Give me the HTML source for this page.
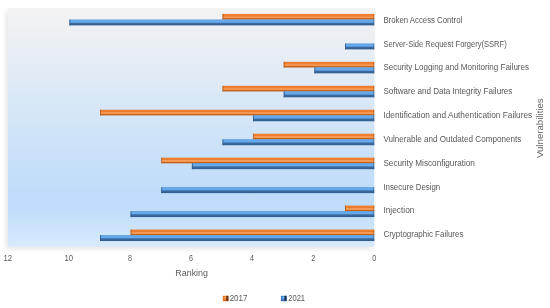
<!DOCTYPE html>
<html><head><meta charset="utf-8"><title>Chart</title>
<style>
html,body{margin:0;padding:0;background:#fff;}
body{width:550px;height:308px;overflow:hidden;}
svg{display:block;}
text{font-family:"Liberation Sans",sans-serif;fill:#595959;}
</style></head><body>
<svg width="550" height="308" viewBox="0 0 550 308">
<defs>
<linearGradient id="bg" x1="0" y1="0" x2="0" y2="1">
<stop offset="0" stop-color="#f3f3f3"/>
<stop offset="0.04" stop-color="#f1f2f3"/>
<stop offset="0.76" stop-color="#bfddfa"/>
<stop offset="0.84" stop-color="#bfddfa"/>
<stop offset="1" stop-color="#d8ebfd"/>
</linearGradient>
<linearGradient id="og" x1="0" y1="0" x2="0" y2="1">
<stop offset="0" stop-color="#ee7e2e"/>
<stop offset="0.3" stop-color="#f0802f"/>
<stop offset="0.4" stop-color="#e57829"/>
<stop offset="0.5" stop-color="#f79b58"/>
<stop offset="0.72" stop-color="#f5954e"/>
<stop offset="0.82" stop-color="#c8651f"/>
<stop offset="1" stop-color="#bb5c1a"/>
</linearGradient>
<linearGradient id="bl" x1="0" y1="0" x2="0" y2="1">
<stop offset="0" stop-color="#4a8fd8"/>
<stop offset="0.16" stop-color="#60a6eb"/>
<stop offset="0.48" stop-color="#68adef"/>
<stop offset="0.58" stop-color="#3e6ea5"/>
<stop offset="1" stop-color="#305a8b"/>
</linearGradient>
<filter id="sh" x="-5%" y="-5%" width="110%" height="112%">
<feGaussianBlur stdDeviation="2.6"/>
</filter>
</defs>
<rect x="0" y="0" width="550" height="308" fill="#fff"/>

<rect x="6.0" y="11.0" width="366.2" height="238.2" fill="#000" opacity="0.10" filter="url(#sh)"/>
<rect x="8.0" y="8.0" width="366.2" height="238.7" fill="url(#bg)"/>
<rect x="374.2" y="8.0" width="1.0" height="238.7" fill="#f0f3f7"/>
<rect x="222.5" y="13.90" width="151.7" height="5.65" fill="url(#og)"/>
<rect x="222.5" y="13.90" width="0.9" height="5.65" fill="#a85216" opacity="0.8"/>
<rect x="373.3" y="13.90" width="0.9" height="5.65" fill="#a85216" opacity="0.6"/>
<rect x="69.4" y="19.55" width="304.8" height="5.85" fill="url(#bl)"/>
<rect x="69.4" y="19.55" width="0.9" height="5.85" fill="#2b5380" opacity="0.85"/>
<rect x="373.3" y="19.55" width="0.9" height="5.85" fill="#2b5380" opacity="0.6"/>
<text x="383.4" y="23" font-size="8.4" textLength="78.8" lengthAdjust="spacingAndGlyphs">Broken Access Control</text>
<rect x="345.0" y="43.51" width="29.2" height="5.85" fill="url(#bl)"/>
<rect x="345.0" y="43.51" width="0.9" height="5.85" fill="#2b5380" opacity="0.85"/>
<rect x="373.3" y="43.51" width="0.9" height="5.85" fill="#2b5380" opacity="0.6"/>
<text x="383.4" y="47" font-size="8.4" textLength="123.3" lengthAdjust="spacingAndGlyphs">Server-Side Request Forgery(SSRF)</text>
<rect x="283.7" y="61.82" width="90.5" height="5.65" fill="url(#og)"/>
<rect x="283.7" y="61.82" width="0.9" height="5.65" fill="#a85216" opacity="0.8"/>
<rect x="373.3" y="61.82" width="0.9" height="5.65" fill="#a85216" opacity="0.6"/>
<rect x="314.4" y="67.47" width="59.8" height="5.85" fill="url(#bl)"/>
<rect x="314.4" y="67.47" width="0.9" height="5.85" fill="#2b5380" opacity="0.85"/>
<rect x="373.3" y="67.47" width="0.9" height="5.85" fill="#2b5380" opacity="0.6"/>
<text x="383.4" y="70" font-size="8.4" textLength="145.6" lengthAdjust="spacingAndGlyphs">Security Logging and Monitoring Failures</text>
<rect x="222.5" y="85.78" width="151.7" height="5.65" fill="url(#og)"/>
<rect x="222.5" y="85.78" width="0.9" height="5.65" fill="#a85216" opacity="0.8"/>
<rect x="373.3" y="85.78" width="0.9" height="5.65" fill="#a85216" opacity="0.6"/>
<rect x="283.7" y="91.43" width="90.5" height="5.85" fill="url(#bl)"/>
<rect x="283.7" y="91.43" width="0.9" height="5.85" fill="#2b5380" opacity="0.85"/>
<rect x="373.3" y="91.43" width="0.9" height="5.85" fill="#2b5380" opacity="0.6"/>
<text x="383.4" y="94" font-size="8.4" textLength="129.0" lengthAdjust="spacingAndGlyphs">Software and Data Integrity Failures</text>
<rect x="100.0" y="109.74" width="274.2" height="5.65" fill="url(#og)"/>
<rect x="100.0" y="109.74" width="0.9" height="5.65" fill="#a85216" opacity="0.8"/>
<rect x="373.3" y="109.74" width="0.9" height="5.65" fill="#a85216" opacity="0.6"/>
<rect x="253.1" y="115.39" width="121.1" height="5.85" fill="url(#bl)"/>
<rect x="253.1" y="115.39" width="0.9" height="5.85" fill="#2b5380" opacity="0.85"/>
<rect x="373.3" y="115.39" width="0.9" height="5.85" fill="#2b5380" opacity="0.6"/>
<text x="383.4" y="118" font-size="8.4" textLength="148.8" lengthAdjust="spacingAndGlyphs">Identification and Authentication Failures</text>
<rect x="253.1" y="133.70" width="121.1" height="5.65" fill="url(#og)"/>
<rect x="253.1" y="133.70" width="0.9" height="5.65" fill="#a85216" opacity="0.8"/>
<rect x="373.3" y="133.70" width="0.9" height="5.65" fill="#a85216" opacity="0.6"/>
<rect x="222.5" y="139.35" width="151.7" height="5.85" fill="url(#bl)"/>
<rect x="222.5" y="139.35" width="0.9" height="5.85" fill="#2b5380" opacity="0.85"/>
<rect x="373.3" y="139.35" width="0.9" height="5.85" fill="#2b5380" opacity="0.6"/>
<text x="383.4" y="142" font-size="8.4" textLength="137.8" lengthAdjust="spacingAndGlyphs">Vulnerable and Outdated Components</text>
<rect x="161.3" y="157.66" width="212.9" height="5.65" fill="url(#og)"/>
<rect x="161.3" y="157.66" width="0.9" height="5.65" fill="#a85216" opacity="0.8"/>
<rect x="373.3" y="157.66" width="0.9" height="5.65" fill="#a85216" opacity="0.6"/>
<rect x="191.9" y="163.31" width="182.3" height="5.85" fill="url(#bl)"/>
<rect x="191.9" y="163.31" width="0.9" height="5.85" fill="#2b5380" opacity="0.85"/>
<rect x="373.3" y="163.31" width="0.9" height="5.85" fill="#2b5380" opacity="0.6"/>
<text x="383.4" y="166" font-size="8.4" textLength="91.5" lengthAdjust="spacingAndGlyphs">Security Misconfiguration</text>
<rect x="161.3" y="187.27" width="212.9" height="5.85" fill="url(#bl)"/>
<rect x="161.3" y="187.27" width="0.9" height="5.85" fill="#2b5380" opacity="0.85"/>
<rect x="373.3" y="187.27" width="0.9" height="5.85" fill="#2b5380" opacity="0.6"/>
<text x="383.4" y="190" font-size="8.4" textLength="56.8" lengthAdjust="spacingAndGlyphs">Insecure Design</text>
<rect x="345.0" y="205.58" width="29.2" height="5.65" fill="url(#og)"/>
<rect x="345.0" y="205.58" width="0.9" height="5.65" fill="#a85216" opacity="0.8"/>
<rect x="373.3" y="205.58" width="0.9" height="5.65" fill="#a85216" opacity="0.6"/>
<rect x="130.6" y="211.23" width="243.6" height="5.85" fill="url(#bl)"/>
<rect x="130.6" y="211.23" width="0.9" height="5.85" fill="#2b5380" opacity="0.85"/>
<rect x="373.3" y="211.23" width="0.9" height="5.85" fill="#2b5380" opacity="0.6"/>
<text x="383.4" y="213" font-size="8.4" textLength="31.0" lengthAdjust="spacingAndGlyphs">Injection</text>
<rect x="130.6" y="229.54" width="243.6" height="5.65" fill="url(#og)"/>
<rect x="130.6" y="229.54" width="0.9" height="5.65" fill="#a85216" opacity="0.8"/>
<rect x="373.3" y="229.54" width="0.9" height="5.65" fill="#a85216" opacity="0.6"/>
<rect x="100.0" y="235.19" width="274.2" height="5.85" fill="url(#bl)"/>
<rect x="100.0" y="235.19" width="0.9" height="5.85" fill="#2b5380" opacity="0.85"/>
<rect x="373.3" y="235.19" width="0.9" height="5.85" fill="#2b5380" opacity="0.6"/>
<text x="383.4" y="237" font-size="8.4" textLength="80.0" lengthAdjust="spacingAndGlyphs">Cryptographic Failures</text>
<text x="372.30" y="261" font-size="8.4" textLength="4.0" lengthAdjust="spacingAndGlyphs">0</text>
<text x="311.20" y="261" font-size="8.4" textLength="4.0" lengthAdjust="spacingAndGlyphs">2</text>
<text x="250.10" y="261" font-size="8.4" textLength="4.0" lengthAdjust="spacingAndGlyphs">4</text>
<text x="189.00" y="261" font-size="8.4" textLength="4.0" lengthAdjust="spacingAndGlyphs">6</text>
<text x="127.90" y="261" font-size="8.4" textLength="4.0" lengthAdjust="spacingAndGlyphs">8</text>
<text x="64.50" y="261" font-size="8.4" textLength="8.6" lengthAdjust="spacingAndGlyphs">10</text>
<text x="3.40" y="261" font-size="8.4" textLength="8.6" lengthAdjust="spacingAndGlyphs">12</text>
<text x="175.3" y="275.6" font-size="8.6" textLength="32.7" lengthAdjust="spacingAndGlyphs">Ranking</text>
<text transform="translate(542.6 158.1) rotate(-90)" font-size="9" style="fill:#636363" textLength="59.8" lengthAdjust="spacingAndGlyphs">Vulnerabilities</text>
<rect x="222.8" y="295.8" width="5.6" height="5.3" fill="#e9781f"/><rect x="226.1" y="295.8" width="2.3" height="5.3" fill="#6e3610"/><rect x="224.4" y="296.6" width="1.7" height="2.2" fill="#f6a45e"/><rect x="222.8" y="300.3" width="5.6" height="0.8" fill="#b85a1a" opacity="0.7"/>
<text x="229.7" y="301" font-size="8.6" textLength="17.7" lengthAdjust="spacingAndGlyphs">2017</text>
<rect x="280.9" y="295.8" width="5.7" height="5.3" fill="#3f7fca"/><rect x="284.3" y="295.8" width="2.3" height="5.3" fill="#1c3452"/><rect x="282.5" y="296.6" width="1.8" height="2.2" fill="#7db6f0"/><rect x="280.9" y="300.3" width="5.7" height="0.8" fill="#2f5b8c" opacity="0.7"/>
<text x="288.2" y="301" font-size="8.6" textLength="16.9" lengthAdjust="spacingAndGlyphs">2021</text>
</svg></body></html>
